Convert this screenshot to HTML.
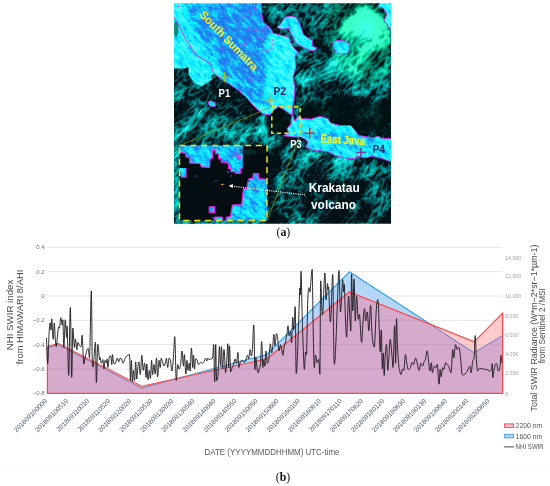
<!DOCTYPE html>
<html><head><meta charset="utf-8"><title>Figure</title>
<style>html,body{margin:0;padding:0;background:#fff}svg{display:block}</style></head>
<body>
<svg width="550" height="486" viewBox="0 0 550 486">
<rect width="550" height="486" fill="#fff"/>

<defs>
<filter id="soft" x="250" y="80" width="160" height="80" filterUnits="userSpaceOnUse"><feGaussianBlur stdDeviation="1.6"/></filter>
<radialGradient id="gtint"><stop offset="0" stop-color="#f4fff0"/><stop offset="0.2" stop-color="#f0ffd0"/><stop offset="0.45" stop-color="#eaffc4"/><stop offset="0.75" stop-color="#f0ffd4"/><stop offset="1" stop-color="#ffffff"/></radialGradient>
<clipPath id="imgclip"><rect x="174.0" y="3.2" width="217.0" height="220.60000000000002"/></clipPath>
<clipPath id="landclip">
 <polygon points="174.0,3.0 261.0,3.0 262.0,15.0 263.3,22.0 270.7,28.4 273.0,33.0 280.0,35.0 288.6,37.0 291.0,43.2 294.0,48.0 298.5,53.0 295.0,56.0 296.0,67.0 293.0,77.0 295.0,87.0 294.2,99.0 293.0,106.0 292.3,113.0 291.0,115.0 286.0,111.0 278.6,106.5 274.0,110.0 270.0,115.0 263.0,114.0 258.0,110.0 253.4,105.5 246.0,97.0 237.3,89.6 230.0,84.6 225.0,81.5 219.4,78.0 214.4,73.5 210.7,76.0 212.0,79.7 207.0,82.2 202.0,85.9 194.7,83.4 188.5,74.8 188.5,67.3 182.3,68.6 174.0,68.6"/><polygon points="280.0,24.7 285.0,17.3 291.0,16.0 296.0,17.3 299.8,23.5 303.5,34.6 308.4,38.3 312.7,40.7 312.0,45.7 317.0,48.0 314.6,51.0 309.6,50.6 304.7,48.0 296.0,43.2 292.3,35.8 288.6,28.4 283.7,29.0 280.0,29.0 277.0,27.0"/><polygon points="333.0,42.0 337.0,40.5 344.0,41.0 349.0,43.5 349.5,49.0 347.5,53.0 341.0,54.0 336.0,53.0 333.5,48.0"/><polygon points="292.3,113.0 294.6,121.0 298.3,116.0 302.0,118.5 311.0,119.0 320.0,116.2 327.7,118.5 330.8,123.1 340.0,125.5 350.9,125.5 355.5,130.9 358.6,135.5 372.5,137.8 378.6,136.3 381.7,138.6 391.0,138.6 391.0,161.7 381.7,158.6 372.5,156.3 364.8,157.9 357.0,156.3 354.0,158.6 344.7,157.9 335.4,155.6 327.7,151.7 320.0,150.9 314.4,150.6 305.7,147.0 308.2,142.0 305.7,139.5 300.8,137.0 293.4,137.0 283.5,135.8 288.5,133.3 287.2,128.4 291.0,124.0"/><polygon points="380.0,3.0 391.0,3.0 391.0,30.0 387.0,24.0 384.0,21.0 387.0,14.0 383.0,8.0 378.0,7.0"/><polygon points="208.3,102.0 211.0,100.7 215.0,103.0 215.7,106.0 212.0,106.9 209.0,105.0"/>
</clipPath>
<clipPath id="insetland">
 <polygon points="179.5,145.6 242.8,145.6 242.8,167.8 241.0,168.4 240.3,173.3 236.6,173.3 233.5,171.5 231.0,171.5 231.0,168.4 228.6,168.4 228.6,163.5 223.6,162.2 221.2,162.2 221.2,158.5 218.7,158.5 218.7,153.6 215.7,153.6 215.7,150.7 212.6,150.7 212.6,158.0 210.0,159.4 209.5,167.4 201.5,166.8 200.2,163.7 192.8,163.0 189.8,163.0 189.8,157.5 186.0,157.0 185.4,153.2 180.5,152.6 179.5,152.6"/><polygon points="253.4,173.7 258.3,173.7 259.0,178.6 267.0,179.3 267.0,220.4 226.2,220.4 226.2,217.5 230.6,216.3 232.4,205.2 241.7,204.6 243.5,188.5 247.2,188.5 247.2,186.0 248.5,179.3 252.8,178.0"/><polygon points="179.5,168.0 186.0,168.0 186.0,177.0 181.0,177.0 179.5,174.0"/><polygon points="209.3,206.8 214.7,206.8 214.7,212.6 209.3,212.6"/><polygon points="214.0,220.4 215.0,217.0 222.0,217.0 223.0,220.4"/>
</clipPath>
<filter id="cloud" x="100" y="-70" width="370" height="370" filterUnits="userSpaceOnUse" color-interpolation-filters="sRGB">
 <feGaussianBlur in="SourceGraphic" stdDeviation="2.5" result="lvl"/>
 <feTurbulence type="fractalNoise" baseFrequency="0.04 0.07" numOctaves="3" seed="11" result="ta0"/>
 <feColorMatrix in="ta0" type="matrix" values="1 0 0 0 0  1 0 0 0 0  1 0 0 0 0  0 0 0 0 1" result="ta"/>
 <feTurbulence type="turbulence" baseFrequency="0.11 0.23" numOctaves="3" seed="5" result="tb0"/>
 <feColorMatrix in="tb0" type="matrix" values="1 0 0 0 0  1 0 0 0 0  1 0 0 0 0  0 0 0 0 1" result="tb"/>
 <feComposite in="ta" in2="tb" operator="arithmetic" k1="0" k2="0.5" k3="-0.5" k4="0.5" result="n"/>
 <feComposite in="n" in2="lvl" operator="arithmetic" k1="-1.9" k2="3.4" k3="2.64" k4="-2.22" result="v"/>
 <feComponentTransfer in="v">
  <feFuncR type="table" tableValues="0.01 0 0 0 0.03 0.25"/>
  <feFuncG type="table" tableValues="0.07 0.26 0.46 0.66 0.85 1"/>
  <feFuncB type="table" tableValues="0.09 0.28 0.47 0.65 0.82 1"/>
  <feFuncA type="linear" slope="0" intercept="1"/>
 </feComponentTransfer>
</filter>
<filter id="landtex" x="100" y="-70" width="370" height="370" filterUnits="userSpaceOnUse" color-interpolation-filters="sRGB">
 <feGaussianBlur in="SourceGraphic" stdDeviation="2.0" result="lvl"/>
 <feTurbulence type="fractalNoise" baseFrequency="0.10 0.27" numOctaves="3" seed="3" result="t"/>
 <feColorMatrix in="t" type="matrix" values="1 0 0 0 0  1 0 0 0 0  1 0 0 0 0  0 0 0 0 1" result="n1"/>
 <feTurbulence type="fractalNoise" baseFrequency="0.55 0.55" numOctaves="1" seed="9" result="t2"/>
 <feColorMatrix in="t2" type="matrix" values="1 0 0 0 0  1 0 0 0 0  1 0 0 0 0  0 0 0 0 1" result="n2"/>
 <feComposite in="n1" in2="n2" operator="arithmetic" k1="0" k2="0.58" k3="0.42" k4="0" result="n"/>
 <feComposite in="n" in2="lvl" operator="arithmetic" k1="0" k2="2.8" k3="1.0" k4="-1.4" result="v"/>
 <feComponentTransfer in="v">
  <feFuncR type="table" tableValues="0.30 0.08 0.05 0.08 0.12 0.14"/>
  <feFuncG type="table" tableValues="0.98 0.95 0.91 0.75 0.58 0.48"/>
  <feFuncB type="table" tableValues="1 1 1 1 0.97 0.93"/>
  <feFuncA type="linear" slope="0" intercept="1"/>
 </feComponentTransfer>
</filter>
</defs>
<g clip-path="url(#imgclip)">
<g transform="rotate(-48 282 113)"><g filter="url(#cloud)"><g transform="rotate(48 282 113)">
<rect x="60" y="-110" width="450" height="450" fill="#000"/>
<rect x="170" y="0" width="225" height="228" fill="#1a1a1a"/>
<polygon points="174.0,69.0 214.0,74.0 232.0,88.0 262.0,112.0 272.0,112.0 272.0,146.0 174.0,146.0" fill="#4f4f4f"/>
<polygon points="174.0,69.0 190.0,72.0 196.0,100.0 186.0,146.0 174.0,146.0" fill="#4c4c4c"/>
<ellipse cx="205" cy="95" rx="12" ry="14" fill="#292929" transform="rotate(0 205 95)"/>
<polygon points="212.0,76.0 232.0,87.0 262.0,112.0 272.0,112.0 272.0,134.0 256.0,130.0 238.0,114.0 216.0,96.0 202.0,88.0" fill="#000000"/>
<ellipse cx="236" cy="112" rx="12" ry="8" fill="#242424" transform="rotate(40 236 112)"/>
<ellipse cx="228" cy="128" rx="26" ry="10" fill="#757575" transform="rotate(0 228 128)"/>
<ellipse cx="262" cy="126" rx="8" ry="12" fill="#808080" transform="rotate(0 262 126)"/>
<polygon points="174.0,146.0 180.0,146.0 180.0,224.0 174.0,224.0" fill="#9e9e9e"/>
<polygon points="174.0,220.0 268.0,220.0 268.0,224.0 174.0,224.0" fill="#8c8c8c"/>
<polygon points="262.0,3.0 391.0,3.0 391.0,100.0 296.0,100.0 296.0,55.0 300.0,50.0 282.0,33.0 264.0,20.0" fill="#4c4c4c"/>
<ellipse cx="366" cy="44" rx="27" ry="36" fill="#8c8c8c" transform="rotate(0 366 44)"/>
<ellipse cx="366" cy="32" rx="24" ry="23" fill="#bdbdbd" transform="rotate(0 366 32)"/>
<ellipse cx="368" cy="24" rx="14" ry="12" fill="#ffffff" transform="rotate(0 368 24)"/>
<ellipse cx="352" cy="62" rx="30" ry="16" fill="#999999" transform="rotate(-25 352 62)"/>
<ellipse cx="375" cy="70" rx="16" ry="20" fill="#757575" transform="rotate(0 375 70)"/>
<ellipse cx="318" cy="74" rx="24" ry="8" fill="#858585" transform="rotate(-8 318 74)"/>
<ellipse cx="312" cy="26" rx="14" ry="8" fill="#575757" transform="rotate(0 312 26)"/>
<ellipse cx="322" cy="12" rx="10" ry="6" fill="#6b6b6b" transform="rotate(0 322 12)"/>
<ellipse cx="276" cy="11" rx="7" ry="5" fill="#808080" transform="rotate(0 276 11)"/>
<ellipse cx="300" cy="30" rx="12" ry="7" fill="#141414" transform="rotate(30 300 30)"/>
<ellipse cx="318" cy="46" rx="14" ry="6" fill="#1a1a1a" transform="rotate(20 318 46)"/>
<ellipse cx="362" cy="88" rx="20" ry="7" fill="#808080" transform="rotate(-25 362 88)"/>
<polygon points="296.0,84.0 330.0,92.0 391.0,100.0 391.0,140.0 355.0,132.0 330.0,122.0 300.0,116.0" fill="#000000"/>
<ellipse cx="312" cy="100" rx="14" ry="8" fill="#1f1f1f" transform="rotate(0 312 100)"/>
<ellipse cx="378" cy="108" rx="10" ry="8" fill="#000000" transform="rotate(0 378 108)"/>
<polygon points="268.0,136.0 391.0,160.0 391.0,224.0 268.0,224.0" fill="#1a1a1a"/>
<polygon points="300.0,150.0 391.0,162.0 391.0,176.0 300.0,168.0" fill="#6b6b6b"/>
<ellipse cx="330" cy="172" rx="40" ry="8" fill="#474747" transform="rotate(5 330 172)"/>
<ellipse cx="287" cy="170" rx="12" ry="30" fill="#424242" transform="rotate(15 287 170)"/>
<ellipse cx="300" cy="212" rx="20" ry="8" fill="#383838" transform="rotate(0 300 212)"/>
<ellipse cx="375" cy="200" rx="14" ry="18" fill="#2e2e2e" transform="rotate(0 375 200)"/>
<ellipse cx="335" cy="200" rx="30" ry="14" fill="#0a0a0a" transform="rotate(0 335 200)"/>
<polygon points="272.0,111.0 292.0,115.0 287.0,128.0 288.0,133.0 272.0,133.0" fill="#0a0a0a"/>
<polygon points="262.0,134.0 285.0,137.0 282.0,148.0 266.0,146.0" fill="#666666"/>
</g></g></g>
<ellipse cx="366" cy="30" rx="46" ry="62" fill="url(#gtint)" style="mix-blend-mode:multiply"/>
<g filter="url(#soft)"><polygon points="270.0,110.0 292.0,114.0 288.0,128.0 289.0,134.0 272.0,134.0 264.0,124.0" fill="#020c11" opacity="0.9"/>
<polygon points="302.0,102.0 330.0,98.0 391.0,104.0 391.0,137.0 360.0,134.0 353.0,124.0 332.0,121.0 320.0,115.0 302.0,116.0" fill="#020c11" opacity="0.62"/></g>
<g clip-path="url(#landclip)"><g transform="rotate(44 282 113)"><g filter="url(#landtex)"><g transform="rotate(-44 282 113)">
<rect x="60" y="-110" width="450" height="450" fill="#333333"/>
<polygon points="190.0,3.0 262.0,3.0 272.0,30.0 268.0,60.0 264.0,106.0 246.0,97.0 226.0,78.0 212.0,58.0 198.0,36.0 186.0,12.0" fill="#b8b8b8"/>
<polygon points="204.0,8.0 236.0,8.0 262.0,56.0 258.0,84.0 244.0,78.0 222.0,52.0" fill="#dbdbdb"/>
<polygon points="222.0,3.0 262.0,3.0 266.0,28.0 262.0,56.0 240.0,40.0" fill="#d1d1d1"/>
<polygon points="268.0,36.0 296.0,44.0 296.0,116.0 268.0,108.0" fill="#1f1f1f"/>
<polygon points="280.0,14.0 300.0,18.0 318.0,50.0 296.0,46.0" fill="#383838"/>
<polygon points="296.0,118.0 391.0,140.0 391.0,160.0 300.0,146.0" fill="#575757"/>
<polygon points="320.0,128.0 370.0,140.0 370.0,152.0 320.0,146.0" fill="#707070"/>
<polygon points="290.0,116.0 312.0,118.0 312.0,146.0 286.0,138.0" fill="#333333"/>
</g></g></g></g>
<ellipse cx="176" cy="29" rx="2.4" ry="8" fill="#0b7a66" opacity="0.85"/>
<polyline points="174.0,17.0 180.0,28.0 186.0,40.0 196.0,55.0 210.7,63.6 213.2,72.3 219.4,77.5 230.0,84.6 237.3,89.6 246.0,97.0 253.4,105.5 258.0,110.0 263.0,114.0 270.0,115.0 274.0,110.0 278.6,106.5 286.0,111.0 291.0,115.0" fill="none" stroke="#d426e6" stroke-width="0.9" stroke-linejoin="round"/>
<polyline points="250.0,3.0 261.0,3.0 262.0,15.0 263.3,22.0 270.7,28.4 273.0,33.0 280.0,35.0 288.6,37.0 291.0,43.2 294.0,48.0 298.5,53.0 295.0,56.0 296.0,67.0 293.0,77.0 295.0,87.0 294.2,99.0 293.0,106.0 292.3,113.0 294.6,121.0" fill="none" stroke="#d426e6" stroke-width="0.9" stroke-linejoin="round"/>
<polygon points="280.0,24.7 285.0,17.3 291.0,16.0 296.0,17.3 299.8,23.5 303.5,34.6 308.4,38.3 312.7,40.7 312.0,45.7 317.0,48.0 314.6,51.0 309.6,50.6 304.7,48.0 296.0,43.2 292.3,35.8 288.6,28.4 283.7,29.0 280.0,29.0 277.0,27.0" fill="none" stroke="#d426e6" stroke-width="0.9" stroke-linejoin="round"/>
<polygon points="333.0,42.0 337.0,40.5 344.0,41.0 349.0,43.5 349.5,49.0 347.5,53.0 341.0,54.0 336.0,53.0 333.5,48.0" fill="none" stroke="#d426e6" stroke-width="0.9" stroke-linejoin="round"/>
<polygon points="208.3,102.0 211.0,100.7 215.0,103.0 215.7,106.0 212.0,106.9 209.0,105.0" fill="none" stroke="#d426e6" stroke-width="0.9" stroke-linejoin="round"/>
<polyline points="294.6,121.0 298.3,116.0 302.0,118.5 311.0,119.0 320.0,116.2 327.7,118.5 330.8,123.1 340.0,125.5 350.9,125.5 355.5,130.9 358.6,135.5 372.5,137.8 378.6,136.3 381.7,138.6 391.0,138.6" fill="none" stroke="#d426e6" stroke-width="0.9" stroke-linejoin="round"/>
<polyline points="391.0,161.7 381.7,158.6 372.5,156.3 364.8,157.9 357.0,156.3 354.0,158.6 344.7,157.9 335.4,155.6 327.7,151.7 320.0,150.9 314.4,150.6 305.7,147.0 308.2,142.0 305.7,139.5 300.8,137.0 293.4,137.0 283.5,135.8 288.5,133.3 287.2,128.4 291.0,124.0 292.3,113.0" fill="none" stroke="#d426e6" stroke-width="0.9" stroke-linejoin="round"/>
<polyline points="391.0,30.0 387.0,24.0 384.0,21.0 387.0,14.0 383.0,8.0 378.0,7.0" fill="none" stroke="#d426e6" stroke-width="0.9" stroke-linejoin="round"/>
<rect x="238.8" y="14.9" width="2.1" height="1.1" fill="#dd2ee2" opacity="0.85"/><rect x="242.5" y="15.5" width="2.1" height="1.1" fill="#dd2ee2" opacity="0.85"/><rect x="249.9" y="12.5" width="2.1" height="1.1" fill="#dd2ee2" opacity="0.85"/><rect x="232.6" y="19.3" width="2.1" height="1.1" fill="#dd2ee2" opacity="0.85"/><rect x="254.2" y="8.1" width="2.1" height="1.1" fill="#dd2ee2" opacity="0.85"/><rect x="225.9" y="27.3" width="2.1" height="1.1" fill="#dd2ee2" opacity="0.85"/><rect x="247.5" y="27.9" width="2.1" height="1.1" fill="#dd2ee2" opacity="0.85"/><rect x="253.0" y="30.4" width="2.1" height="1.1" fill="#dd2ee2" opacity="0.85"/><rect x="255.5" y="30.4" width="2.1" height="1.1" fill="#dd2ee2" opacity="0.85"/><rect x="261.7" y="30.4" width="2.1" height="1.1" fill="#dd2ee2" opacity="0.85"/><rect x="263.5" y="26.7" width="2.1" height="1.1" fill="#dd2ee2" opacity="0.85"/><rect x="264.7" y="28.5" width="2.1" height="1.1" fill="#dd2ee2" opacity="0.85"/><rect x="262.9" y="34.7" width="2.1" height="1.1" fill="#dd2ee2" opacity="0.85"/><rect x="254.9" y="38.4" width="2.1" height="1.1" fill="#dd2ee2" opacity="0.85"/><rect x="260.4" y="38.4" width="2.1" height="1.1" fill="#dd2ee2" opacity="0.85"/><rect x="267.8" y="39.0" width="2.1" height="1.1" fill="#dd2ee2" opacity="0.85"/><rect x="271.5" y="39.6" width="2.1" height="1.1" fill="#dd2ee2" opacity="0.85"/><rect x="271.5" y="43.9" width="2.1" height="1.1" fill="#dd2ee2" opacity="0.85"/><rect x="261.0" y="45.2" width="2.1" height="1.1" fill="#dd2ee2" opacity="0.85"/><rect x="253.6" y="48.9" width="2.1" height="1.1" fill="#dd2ee2" opacity="0.85"/><rect x="261.0" y="49.5" width="2.1" height="1.1" fill="#dd2ee2" opacity="0.85"/><rect x="264.7" y="49.5" width="2.1" height="1.1" fill="#dd2ee2" opacity="0.85"/><rect x="267.2" y="49.5" width="2.1" height="1.1" fill="#dd2ee2" opacity="0.85"/><rect x="270.3" y="47.6" width="2.1" height="1.1" fill="#dd2ee2" opacity="0.85"/><rect x="238.8" y="43.3" width="2.1" height="1.1" fill="#dd2ee2" opacity="0.85"/><rect x="243.1" y="43.9" width="2.1" height="1.1" fill="#dd2ee2" opacity="0.85"/><rect x="193.5" y="29.0" width="2.1" height="1.1" fill="#dd2ee2" opacity="0.85"/><rect x="220.5" y="48.3" width="2.1" height="1.1" fill="#dd2ee2" opacity="0.85"/><rect x="177.0" y="6.0" width="2.1" height="1.1" fill="#dd2ee2" opacity="0.85"/><rect x="248.5" y="78.5" width="2.1" height="1.1" fill="#dd2ee2" opacity="0.85"/><rect x="250.0" y="80.5" width="2.1" height="1.1" fill="#dd2ee2" opacity="0.85"/>
<rect x="179.5" y="145.6" width="87.5" height="74.80000000000001" fill="#030d12"/>
<g clip-path="url(#insetland)"><g transform="rotate(44 282 113)"><g filter="url(#landtex)"><g transform="rotate(-44 282 113)">
<rect x="60" y="-110" width="450" height="450" fill="#9e9e9e"/>
<polygon points="132.0,140.0 136.5,140.0 176.5,180.0 172.0,180.0" fill="#666666"/>
<polygon points="143.0,140.0 147.5,140.0 187.5,180.0 183.0,180.0" fill="#666666"/>
<polygon points="154.0,140.0 158.5,140.0 198.5,180.0 194.0,180.0" fill="#666666"/>
<polygon points="165.0,140.0 169.5,140.0 209.5,180.0 205.0,180.0" fill="#666666"/>
<polygon points="176.0,140.0 180.5,140.0 220.5,180.0 216.0,180.0" fill="#666666"/>
<polygon points="187.0,140.0 191.5,140.0 231.5,180.0 227.0,180.0" fill="#666666"/>
<polygon points="198.0,140.0 202.5,140.0 242.5,180.0 238.0,180.0" fill="#666666"/>
<polygon points="209.0,140.0 213.5,140.0 253.5,180.0 249.0,180.0" fill="#666666"/>
<polygon points="220.0,140.0 224.5,140.0 264.5,180.0 260.0,180.0" fill="#666666"/>
<polygon points="231.0,140.0 235.5,140.0 275.5,180.0 271.0,180.0" fill="#666666"/>
<polygon points="242.0,140.0 246.5,140.0 286.5,180.0 282.0,180.0" fill="#666666"/>
<polygon points="253.0,140.0 257.5,140.0 297.5,180.0 293.0,180.0" fill="#666666"/>
<polygon points="264.0,140.0 268.5,140.0 308.5,180.0 304.0,180.0" fill="#666666"/>
<polygon points="275.0,140.0 279.5,140.0 319.5,180.0 315.0,180.0" fill="#666666"/>
<polygon points="286.0,140.0 290.5,140.0 330.5,180.0 326.0,180.0" fill="#666666"/>
<polygon points="297.0,140.0 301.5,140.0 341.5,180.0 337.0,180.0" fill="#666666"/>
<polygon points="308.0,140.0 312.5,140.0 352.5,180.0 348.0,180.0" fill="#666666"/>
<polygon points="319.0,140.0 323.5,140.0 363.5,180.0 359.0,180.0" fill="#666666"/>
<polygon points="238.0,190.0 267.0,200.0 267.0,221.0 226.0,221.0" fill="#808080"/>
</g></g></g></g>
<polyline points="242.8,167.8 241.0,168.4 240.3,173.3 236.6,173.3 233.5,171.5 231.0,171.5 231.0,168.4 228.6,168.4 228.6,163.5 223.6,162.2 221.2,162.2 221.2,158.5 218.7,158.5 218.7,153.6 215.7,153.6 215.7,150.7 212.6,150.7 212.6,158.0 210.0,159.4 209.5,167.4 201.5,166.8 200.2,163.7 192.8,163.0 189.8,163.0 189.8,157.5 186.0,157.0 185.4,153.2 180.5,152.6 179.5,152.6" fill="none" stroke="#ee22e6" stroke-width="1.25" stroke-linejoin="miter"/>
<circle cx="236.6" cy="154.6" r="1.5" fill="none" stroke="#ee22e6" stroke-width="1.25" stroke-linejoin="miter"/><circle cx="239.2" cy="157" r="1.4" fill="none" stroke="#ee22e6" stroke-width="1.25" stroke-linejoin="miter"/>
<polyline points="226.2,220.4 226.2,217.5 230.6,216.3 232.4,205.2 241.7,204.6 243.5,188.5 247.2,188.5 247.2,186.0 248.5,179.3 252.8,178.0 253.4,173.7 258.3,173.7 259.0,178.6 267.0,179.3" fill="none" stroke="#ee22e6" stroke-width="1.25" stroke-linejoin="miter"/>
<polyline points="186.0,168.0 186.0,177.0 181.0,177.0" fill="none" stroke="#ee22e6" stroke-width="1.25" stroke-linejoin="miter"/>
<polygon points="209.3,206.8 214.7,206.8 214.7,212.6 209.3,212.6" fill="none" stroke="#ee22e6" stroke-width="1.25" stroke-linejoin="miter"/>
<polyline points="214.0,220.4 215.0,217.0 222.0,217.0 223.0,220.4" fill="none" stroke="#ee22e6" stroke-width="1.25" stroke-linejoin="miter"/>
<circle cx="228" cy="172" r="1.2" fill="#0b4f8f"/>
<circle cx="231" cy="176" r="1.0" fill="#0b4f8f"/>
<circle cx="196" cy="176" r="1.1" fill="#0b4f8f"/>
<circle cx="216" cy="181" r="0.9" fill="#0b4f8f"/>
<circle cx="249" cy="181" r="1.0" fill="#0b4f8f"/>
<circle cx="213" cy="218" r="1.3" fill="#0b4f8f"/>
<circle cx="240" cy="150" r="1.2" fill="#0b4f8f"/>
<ellipse cx="248" cy="152" rx="9" ry="3" fill="#0a4a48" opacity="0.45"/>
<rect x="220.6" y="183.8" width="1.3" height="1.2" fill="#e03030"/><rect x="221.9" y="183.8" width="1.4" height="1.2" fill="#f0c020"/><rect x="223.3" y="183.9" width="1" height="1" fill="#b040c0"/>
</g>
<rect x="179.5" y="145.6" width="87.5" height="74.80000000000001" stroke="#f2e01a" fill="none" stroke-width="1.5" stroke-dasharray="6.2 4.7"/>
<rect x="271.8" y="106.8" width="28.4" height="26.5" stroke="#f2e01a" fill="none" stroke-width="1.5" stroke-dasharray="4.2 3.2"/>
<line x1="271.8" y1="106.8" x2="179.5" y2="145.6" stroke="#8a9a10" stroke-width="0.7"/>
<line x1="300.2" y1="133.3" x2="267.5" y2="220" stroke="#8a9a10" stroke-width="0.7"/>
<line x1="232" y1="186.1" x2="305.5" y2="195" stroke="#fff" stroke-width="1.1" stroke-dasharray="1.1 1.1"/>
<polygon points="228.6,185.8 233,183.9 232.6,188" fill="#fff"/>
<path d="M219.3,77.2H229.7M224.5,72.0V82.4" stroke="#8fbf2a" stroke-width="1.5" fill="none"/>
<path d="M264.5,99.7H274.9M269.7,94.5V104.9" stroke="#e8a81c" stroke-width="1.5" fill="none"/>
<path d="M304.5,133.3H314.9M309.7,128.1V138.5" stroke="#ee2222" stroke-width="1.5" fill="none"/>
<path d="M355.7,152.5H366.1M360.9,147.3V157.7" stroke="#7a3d9a" stroke-width="1.5" fill="none"/>
<text transform="translate(199.0,15.3) rotate(46)" font-family="Liberation Sans, Arial, sans-serif" font-weight="bold" font-size="11.4" fill="#fff21a" textLength="78.5" lengthAdjust="spacingAndGlyphs">South Sumatra</text>
<text x="218.6" y="96.6" font-family="Liberation Sans, Arial, sans-serif" font-weight="bold" font-size="10" fill="#fff" textLength="11.6" lengthAdjust="spacingAndGlyphs">P1</text>
<text x="273.4" y="95.2" font-family="Liberation Sans, Arial, sans-serif" font-weight="bold" font-size="10.8" fill="#0c1f5c" textLength="12.4" lengthAdjust="spacingAndGlyphs">P2</text>
<text x="290.2" y="148" font-family="Liberation Sans, Arial, sans-serif" font-weight="bold" font-size="10" fill="#fff" textLength="11.4" lengthAdjust="spacingAndGlyphs">P3</text>
<text x="372.4" y="153.0" font-family="Liberation Sans, Arial, sans-serif" font-weight="bold" font-size="10.6" fill="#0c1f5c" textLength="12.6" lengthAdjust="spacingAndGlyphs">P4</text>
<text transform="translate(320.3,142.2) rotate(3.6)" font-family="Liberation Sans, Arial, sans-serif" font-weight="bold" font-size="11.6" fill="#fff21a" stroke="#fff21a" stroke-width="0.25" textLength="44.4" lengthAdjust="spacingAndGlyphs">East Java</text>
<text x="334.2" y="191.6" text-anchor="middle" font-family="Liberation Sans, Arial, sans-serif" font-weight="bold" font-size="13" fill="#fff" textLength="51" lengthAdjust="spacingAndGlyphs">Krakatau</text>
<text x="333.5" y="208.6" text-anchor="middle" font-family="Liberation Sans, Arial, sans-serif" font-weight="bold" font-size="13" fill="#fff" textLength="45" lengthAdjust="spacingAndGlyphs">volcano</text>
<line x1="47.4" x2="502.6" y1="247.3" y2="247.3" stroke="#e6e6e6" stroke-width="1"/>
<line x1="47.4" x2="502.6" y1="271.6" y2="271.6" stroke="#e6e6e6" stroke-width="1"/>
<line x1="47.4" x2="502.6" y1="296.0" y2="296.0" stroke="#e6e6e6" stroke-width="1"/>
<line x1="47.4" x2="502.6" y1="320.3" y2="320.3" stroke="#e6e6e6" stroke-width="1"/>
<line x1="47.4" x2="502.6" y1="344.6" y2="344.6" stroke="#e6e6e6" stroke-width="1"/>
<line x1="47.4" x2="502.6" y1="369.0" y2="369.0" stroke="#e6e6e6" stroke-width="1"/>
<clipPath id="redarea"><polygon points="47.4,346.7 58.0,343.3 141.6,386.2 266.7,358.9 349.4,292.0 474.2,341.8 502.6,313.2 502.6,393.3 47.4,393.3"/></clipPath>
<polygon points="47.4,347.8 58.0,344.5 141.6,388.0 266.7,354.6 349.4,271.8 474.2,352.8 502.6,335.5 502.6,393.3 47.4,393.3" fill="#b4d6fa"/>
<polyline points="47.4,347.8 58.0,344.5 141.6,388.0 266.7,354.6 349.4,271.8 474.2,352.8 502.6,335.5" fill="none" stroke="#36a0e2" stroke-width="1.15" stroke-linejoin="round"/>
<polygon points="47.4,346.7 58.0,343.3 141.6,386.2 266.7,358.9 349.4,292.0 474.2,341.8 502.6,313.2 502.6,393.3 47.4,393.3" fill="#fccccd"/>
<polygon points="47.4,347.8 58.0,344.5 141.6,388.0 178.5,378.1 266.7,358.9 349.4,292.0 430.2,324.2 474.2,352.8 502.6,335.5 502.6,393.3 47.4,393.3" fill="#d5aacd"/>
<line x1="47.4" x2="502.6" y1="247.3" y2="247.3" stroke="#000" stroke-opacity="0.07" stroke-width="0.9" clip-path="url(#redarea)"/>
<line x1="47.4" x2="502.6" y1="271.6" y2="271.6" stroke="#000" stroke-opacity="0.07" stroke-width="0.9" clip-path="url(#redarea)"/>
<line x1="47.4" x2="502.6" y1="296.0" y2="296.0" stroke="#000" stroke-opacity="0.07" stroke-width="0.9" clip-path="url(#redarea)"/>
<line x1="47.4" x2="502.6" y1="320.3" y2="320.3" stroke="#000" stroke-opacity="0.07" stroke-width="0.9" clip-path="url(#redarea)"/>
<line x1="47.4" x2="502.6" y1="344.6" y2="344.6" stroke="#000" stroke-opacity="0.07" stroke-width="0.9" clip-path="url(#redarea)"/>
<line x1="47.4" x2="502.6" y1="369.0" y2="369.0" stroke="#000" stroke-opacity="0.07" stroke-width="0.9" clip-path="url(#redarea)"/>
<polyline points="47.4,347.8 58.0,344.5 141.6,388.0 266.7,354.6 349.4,271.8 474.2,352.8 502.6,335.5" fill="none" stroke="#6e78be" stroke-width="1.0" stroke-linejoin="round" clip-path="url(#redarea)"/>
<polygon points="47.4,346.7 58.0,343.3 141.6,386.2 266.7,358.9 349.4,292.0 474.2,341.8 502.6,313.2 502.6,393.3 47.4,393.3" fill="none" stroke="#ff4444" stroke-width="1.15" stroke-linejoin="miter"/>
<path d="M46.5,338.3C46.7,343.4 47.2,364.0 47.7,364.0C48.2,362.9 48.6,341.2 49.1,333.0C49.6,324.8 49.8,323.5 50.2,322.9C50.6,322.9 50.7,330.0 51.0,330.0C51.3,329.2 51.4,318.8 51.8,318.8C52.2,320.7 52.7,338.5 53.2,339.3C53.7,339.3 53.9,323.0 54.3,322.9C54.7,322.9 54.9,334.3 55.3,339.0C55.7,343.7 55.7,346.5 56.3,346.5C56.9,344.1 57.8,330.7 58.4,327.0C59.0,327.0 59.0,328.0 59.5,328.0C60.0,326.1 60.3,318.3 60.8,317.7C61.3,317.7 61.7,324.6 62.1,325.0C62.5,325.0 62.5,319.8 62.9,319.8C63.3,324.3 63.4,347.5 63.9,347.5C64.4,347.5 64.7,321.8 65.2,319.8C65.7,319.8 66.2,336.1 66.6,337.3C67.0,337.3 66.8,326.0 67.2,326.0C67.6,333.6 68.1,375.3 68.7,375.3C69.3,371.6 69.7,307.5 70.3,307.5C70.9,307.9 71.2,373.2 71.7,377.3C72.2,377.3 72.3,334.0 72.8,328.0C73.3,328.0 73.9,345.3 74.4,347.5C74.9,347.5 74.9,339.0 75.4,339.0C75.9,339.4 76.4,348.9 76.9,349.6C77.4,349.6 77.3,343.0 77.9,342.4C78.5,342.4 79.3,345.7 80.0,346.5C80.7,346.5 80.8,346.5 81.2,346.5C81.6,344.2 81.7,335.2 82.2,335.2C82.7,338.7 83.1,359.5 83.7,364.0C84.3,364.0 84.4,360.7 85.1,357.8C85.8,354.9 86.5,351.5 87.1,349.6C87.7,348.5 87.7,348.5 88.2,348.5C88.7,350.1 89.0,357.8 89.6,357.8C90.2,346.3 90.8,291.0 91.3,291.0C91.8,292.2 91.9,348.8 92.3,364.0C92.7,367.0 92.7,367.0 93.3,367.0C93.9,362.7 94.8,342.4 95.4,342.4C96.0,345.5 95.9,382.1 96.4,382.5C96.9,382.5 97.2,348.9 97.8,344.4C98.4,344.4 99.1,357.3 99.5,359.9C99.9,359.9 99.6,357.4 100.0,357.4C100.4,358.1 100.8,362.8 101.4,363.2C102.0,363.2 102.4,359.6 102.9,359.6C103.4,360.8 103.6,368.9 104.0,369.0C104.4,369.0 104.5,361.5 105.0,360.3C105.5,360.3 106.1,363.2 106.5,363.2C106.9,362.9 106.9,358.9 107.2,358.9C107.5,359.8 107.5,367.5 107.9,367.5C108.3,367.1 108.8,359.0 109.4,356.7C110.0,356.0 110.3,356.0 110.8,356.0C111.3,357.6 111.5,364.6 111.8,364.6C112.1,364.3 112.1,354.9 112.5,354.6C112.9,354.6 113.2,361.3 113.7,363.2C114.2,363.9 114.4,363.9 115.1,363.9C115.8,362.9 116.6,358.6 117.3,358.2C118.0,358.2 118.1,361.8 118.7,361.8C119.3,361.8 119.6,358.8 120.2,358.2C120.8,358.2 121.0,358.2 121.6,358.9C122.2,359.9 122.3,363.2 123.0,363.2C123.7,363.1 124.3,359.8 125.2,358.2C126.1,356.6 126.5,356.0 127.4,355.3C128.3,354.6 128.9,354.6 129.5,354.6C130.1,359.6 130.1,379.4 130.5,380.5C130.9,380.5 131.0,360.3 131.4,360.3C131.8,360.6 132.0,379.9 132.4,381.9C132.8,381.9 133.0,370.7 133.4,370.4C133.8,370.4 134.1,380.5 134.6,380.5C135.1,378.8 135.3,362.1 135.7,361.8C136.1,361.8 136.3,377.6 136.7,379.0C137.1,379.0 137.3,372.4 137.7,369.0C138.1,365.6 138.4,361.8 138.9,361.8C139.4,362.9 139.7,374.7 140.3,374.7C140.9,373.4 141.2,356.2 141.8,355.3C142.4,355.3 142.6,368.8 143.2,370.4C143.8,370.4 144.0,363.2 144.6,363.2C145.2,364.6 145.7,377.5 146.1,377.6C146.5,377.6 146.4,363.9 146.8,363.9C147.2,364.3 147.5,378.5 148.0,379.8C148.5,379.8 148.8,370.7 149.3,370.4C149.8,370.4 149.9,378.3 150.4,378.3C150.9,376.3 151.2,361.0 151.6,360.3C152.0,360.3 152.1,373.8 152.6,374.7C153.1,374.7 153.5,364.7 154.0,364.6C154.5,364.6 154.7,374.0 155.2,374.0C155.7,372.7 156.0,358.2 156.5,358.2C157.0,358.8 157.1,376.5 157.6,376.9C158.1,376.9 158.5,362.2 159.0,360.3C159.5,360.3 159.8,367.5 160.2,367.5C160.6,367.1 160.7,359.2 161.2,358.2C161.7,358.2 162.1,360.9 162.7,362.5C163.3,364.1 163.5,366.1 164.1,366.1C164.7,366.0 165.0,363.4 165.5,361.8C166.0,360.2 166.1,358.2 166.5,358.2C166.9,359.3 167.2,367.5 167.7,367.5C168.2,367.5 168.5,359.5 169.1,358.2C169.7,358.2 169.9,358.3 170.5,360.9C171.1,363.5 171.3,371.1 171.9,371.1C172.5,370.4 172.8,364.3 173.4,357.4C174.0,350.5 174.2,336.6 174.8,336.6C175.4,341.2 175.6,374.9 176.2,380.5C176.8,380.5 177.1,366.9 177.7,364.6C178.3,364.6 178.5,369.0 179.1,369.0C179.7,369.0 180.0,368.2 180.6,364.6C181.2,361.0 181.4,351.0 182.0,351.0C182.6,351.3 182.9,365.4 183.4,366.1C183.9,366.1 183.9,354.6 184.4,354.6C184.9,356.2 185.4,372.9 185.9,374.0C186.4,374.0 186.5,361.0 186.9,360.3C187.3,360.3 187.5,369.8 188.0,370.4C188.5,370.4 188.8,363.2 189.2,363.2C189.6,363.3 189.8,371.1 190.2,371.1C190.6,368.1 190.9,348.8 191.4,348.1C191.9,348.1 192.3,366.1 192.7,367.5C193.1,367.5 193.1,355.3 193.5,355.3C193.9,355.6 194.1,368.3 194.5,369.0C194.9,369.0 195.0,360.8 195.5,358.9C196.0,358.9 196.4,358.9 197.0,359.6C197.6,360.7 197.7,364.0 198.4,364.6C199.1,364.6 199.5,362.8 200.3,362.5C201.1,362.5 201.5,363.2 202.2,363.2C202.9,363.1 203.2,362.8 203.9,361.8C204.6,360.8 205.0,358.4 205.6,358.2C206.2,358.2 206.4,361.0 206.8,361.0C207.2,361.0 207.4,358.5 207.8,358.2C208.2,358.2 208.3,359.5 208.9,359.6C209.5,359.6 210.1,359.2 210.8,358.9C211.5,358.6 211.9,358.9 212.5,358.2C213.1,355.3 213.3,344.5 213.7,344.5C214.1,349.2 214.3,381.9 214.7,381.9C215.1,381.9 215.3,344.8 215.7,344.5C216.1,344.5 216.1,374.5 216.6,380.5C217.1,380.5 217.4,380.5 218.0,374.7C218.6,367.9 218.9,348.3 219.4,346.6C219.9,346.6 220.1,366.1 220.5,366.1C220.9,366.1 221.1,346.6 221.5,346.6C221.9,347.2 222.1,368.4 222.6,369.0C223.1,369.0 223.4,349.5 224.0,349.5C224.6,350.2 225.0,369.9 225.5,372.6C226.0,372.6 226.1,369.0 226.6,363.2C227.1,357.4 227.4,343.8 227.8,343.8C228.2,344.7 228.4,367.1 228.7,367.5C229.0,367.5 229.1,345.9 229.5,345.9C229.9,346.8 230.2,366.9 230.5,371.9C230.8,371.9 230.9,371.9 231.2,371.1C231.5,370.2 231.7,368.8 232.2,367.5C232.7,366.2 233.0,366.3 233.6,364.6C234.2,362.9 234.4,359.2 235.0,358.9C235.6,358.9 235.9,363.2 236.5,363.2C237.1,361.9 237.4,352.4 237.9,352.4C238.4,353.3 238.4,365.6 238.9,367.5C239.4,367.5 239.7,363.2 240.4,361.8C241.1,360.4 241.4,360.3 242.2,360.3C243.0,360.4 243.6,362.5 244.4,362.5C245.2,362.2 245.5,360.3 246.1,358.9C246.7,357.5 247.1,355.3 247.6,355.3C248.1,355.3 248.2,358.9 248.7,358.9C249.2,357.7 249.7,350.1 250.2,349.5C250.7,349.5 250.9,355.7 251.3,356.0C251.7,356.0 251.8,356.0 252.3,351.0C252.8,344.8 253.3,325.0 253.8,325.0C254.3,328.7 254.4,363.2 254.8,369.7C255.2,369.7 255.4,357.5 255.9,357.4C256.4,357.4 256.6,366.0 257.1,369.0C257.6,372.0 257.9,372.6 258.4,372.6C258.9,372.3 259.1,368.8 259.5,367.5C259.9,366.2 260.1,367.5 260.5,366.1C260.9,360.9 261.2,341.6 261.7,341.6C262.2,341.9 262.4,363.8 262.8,367.5C263.2,367.5 263.4,360.6 263.8,360.3C264.2,360.3 264.5,366.1 264.9,366.1C265.3,364.2 265.5,351.6 266.0,351.0C266.5,351.0 266.7,361.3 267.2,363.2C267.7,363.2 268.0,363.2 268.6,360.3C269.2,356.4 269.7,345.2 270.3,343.8C270.9,343.8 271.1,352.1 271.5,353.1C271.9,353.1 272.0,352.5 272.5,348.8C273.0,345.1 273.4,335.0 273.9,334.4C274.4,334.4 274.4,345.9 274.9,345.9C275.4,345.8 275.9,335.4 276.4,333.7C276.9,333.7 277.0,333.8 277.5,337.3C278.0,340.8 278.4,349.6 279.0,351.0C279.6,351.0 279.9,344.9 280.4,344.5C280.9,344.5 281.1,346.6 281.6,348.8C282.1,351.0 282.4,355.3 282.9,355.3C283.4,355.0 283.5,350.1 284.0,347.4C284.5,344.7 284.9,344.2 285.5,341.6C286.1,339.0 286.4,337.6 286.9,334.4C287.4,331.2 287.6,325.8 288.0,325.8C288.4,326.1 288.6,334.7 289.1,335.8C289.6,335.8 290.0,331.5 290.5,331.5C291.0,332.9 291.2,343.0 291.6,343.0C292.0,340.2 292.3,320.0 292.7,317.4C293.1,317.4 293.3,330.0 293.8,330.0C294.3,327.9 294.7,306.7 295.2,306.7C295.7,315.4 295.7,365.0 296.2,373.4C296.7,373.4 297.0,365.9 297.7,348.8C298.4,331.7 299.3,298.8 299.8,288.0C300.3,288.0 300.0,295.0 300.3,295.0C300.6,291.7 300.7,271.3 301.1,271.3C301.5,276.3 301.8,303.3 302.3,320.0C302.8,336.7 303.1,345.1 303.5,355.0C303.9,364.9 304.0,369.3 304.4,369.3C304.8,368.7 305.1,355.0 305.5,352.0C305.9,352.0 306.0,354.5 306.5,354.5C307.0,344.1 307.3,313.4 307.8,300.0C308.3,287.7 308.5,289.3 308.9,287.7C309.3,287.7 309.6,292.0 310.0,292.0C310.4,290.5 310.6,284.5 311.0,280.0C311.4,275.5 311.8,269.3 312.2,269.3C312.6,279.3 312.8,310.3 313.2,330.0C313.6,349.7 313.8,362.7 314.3,367.7C314.8,367.7 314.9,356.0 315.5,355.0C316.1,355.0 316.5,361.8 317.1,362.7C317.7,362.7 318.1,359.4 318.7,359.4C319.3,361.7 319.5,374.3 319.9,374.3C320.3,358.6 320.2,292.7 320.7,280.8C321.2,280.8 321.7,315.0 322.5,315.0C323.3,313.4 324.1,275.9 324.8,272.9C325.5,272.9 325.5,297.9 326.0,300.0C326.5,300.0 327.1,285.6 327.5,283.6C327.9,283.6 327.8,289.3 328.0,290.0C328.2,290.0 328.1,286.9 328.6,286.9C329.1,293.3 329.7,322.0 330.5,322.0C331.3,319.5 332.1,274.6 332.7,274.6C333.3,276.2 333.2,312.0 333.5,330.0C333.8,348.0 333.9,362.4 334.4,364.4C334.9,364.4 335.4,352.9 336.0,340.0C336.6,327.1 336.9,313.9 337.5,300.0C338.1,286.1 338.4,270.5 339.0,270.5C339.6,272.9 339.8,310.2 340.5,312.0C341.2,312.0 342.0,283.5 342.6,279.5C343.2,279.5 343.1,291.0 343.4,292.0C343.7,292.0 343.9,284.4 344.3,284.4C344.7,290.0 345.0,309.4 345.5,320.0C346.0,330.6 346.1,337.2 346.7,337.2C347.3,332.4 347.9,301.4 348.5,296.0C349.1,296.0 349.0,303.0 349.5,310.0C350.0,317.0 350.4,331.0 350.8,331.0C351.2,323.8 351.2,278.0 351.6,274.0C352.0,274.0 352.3,310.0 352.8,311.0C353.3,311.0 353.6,279.0 354.1,279.0C354.6,281.0 354.8,317.5 355.3,321.0C355.8,321.0 356.0,296.6 356.6,296.3C357.2,296.3 357.6,315.7 358.2,319.3C358.8,319.3 358.8,314.4 359.5,314.4C360.2,319.0 360.8,340.4 361.5,342.4C362.2,342.4 362.2,331.1 362.8,324.3C363.4,317.5 363.9,309.3 364.5,308.6C365.1,308.6 365.0,320.3 365.6,321.0C366.2,321.0 366.6,311.9 367.3,311.9C368.0,313.9 368.2,330.8 368.9,330.8C369.6,329.5 369.9,305.3 370.6,305.3C371.3,306.3 371.4,327.5 372.2,335.8C373.0,344.1 373.6,347.0 374.4,347.0C375.2,341.7 375.6,318.9 376.3,309.4C377.0,299.9 377.4,299.6 378.0,299.6C378.6,303.9 378.9,320.4 379.3,330.8C379.7,341.2 379.8,351.7 380.2,351.7C380.6,351.5 380.9,330.0 381.3,330.0C381.7,333.5 381.9,364.4 382.3,369.0C382.7,369.0 382.9,353.0 383.3,353.0C383.7,354.3 383.8,374.9 384.2,375.5C384.6,375.5 384.7,362.2 385.2,356.0C385.7,349.8 386.1,344.5 386.6,344.5C387.1,347.4 387.3,367.5 387.7,370.4C388.1,370.4 388.3,365.1 388.8,358.9C389.3,352.7 389.6,340.0 390.2,339.4C390.8,339.4 391.4,350.4 392.0,356.0C392.6,361.6 392.6,367.5 393.1,367.5C393.6,361.5 394.1,326.7 394.6,325.8C395.1,325.8 395.2,363.2 395.6,363.2C396.0,361.7 396.1,322.2 396.5,318.5C396.9,318.5 397.0,335.6 397.4,344.5C397.8,353.4 398.2,358.0 398.6,363.2C399.0,368.4 399.1,368.1 399.6,370.4C400.1,372.7 400.4,374.7 401.0,374.7C401.6,374.4 401.9,369.9 402.5,369.0C403.1,369.0 403.3,370.4 403.9,370.4C404.5,367.5 404.8,356.0 405.4,354.6C406.0,354.6 406.2,360.2 406.8,363.2C407.4,366.2 407.5,368.8 408.2,369.7C408.9,369.7 409.7,368.9 410.4,367.5C411.1,366.1 411.3,363.1 411.9,362.5C412.5,362.5 412.9,364.6 413.6,364.6C414.3,363.7 414.8,358.8 415.5,358.2C416.2,358.2 416.2,359.4 416.9,361.8C417.6,364.2 418.3,370.1 419.1,370.4C419.9,370.4 420.1,364.1 420.8,363.2C421.5,363.2 422.0,366.1 422.7,366.1C423.4,365.8 423.5,363.2 424.1,361.8C424.7,360.4 424.9,361.1 425.5,358.9C426.1,356.7 426.6,350.8 427.2,350.8C427.8,351.3 428.1,357.2 428.6,361.2C429.1,365.2 429.4,370.7 429.9,371.0C430.4,371.0 430.8,362.8 431.3,362.8C431.8,363.1 431.8,372.0 432.4,372.7C433.0,372.7 433.4,367.1 434.1,366.1C434.8,366.1 435.1,367.7 435.7,367.7C436.3,367.4 436.6,364.4 437.3,364.4C438.0,367.7 438.4,383.2 439.0,384.2C439.6,384.2 439.7,370.9 440.1,369.4C440.5,369.4 440.6,376.8 441.1,376.8C441.6,376.5 442.2,369.2 442.8,367.7C443.4,367.7 443.3,369.4 443.9,369.4C444.5,368.4 444.9,363.8 445.6,362.8C446.3,362.8 446.5,363.6 447.2,364.4C447.9,365.2 448.1,365.2 448.9,366.9C449.7,368.6 450.2,372.7 451.0,372.7C451.8,369.2 452.1,352.6 452.7,349.6C453.3,349.6 453.2,357.9 453.8,357.9C454.4,356.9 454.8,346.4 455.5,344.7C456.2,344.7 456.5,349.1 457.1,349.6C457.7,349.6 458.1,347.2 458.7,347.2C459.3,347.7 459.5,349.3 459.9,352.1C460.3,354.9 460.5,356.8 460.9,361.2C461.3,365.6 461.4,371.5 462.0,374.3C462.6,375.1 462.9,375.1 463.7,375.1C464.5,374.8 465.3,373.8 466.2,372.7C467.1,371.6 467.4,370.7 468.1,369.4C468.8,368.1 469.2,366.1 469.8,366.1C470.4,366.8 470.5,372.7 471.1,372.7C471.7,371.7 472.1,364.2 472.7,361.2C473.3,358.2 473.6,361.2 474.1,357.9C474.6,352.8 474.7,335.6 475.2,335.6C475.7,335.9 475.9,352.4 476.4,359.5C476.9,366.6 477.1,369.2 477.7,371.0C478.3,371.0 478.5,369.1 479.3,368.6C480.1,368.6 480.8,368.6 481.8,368.6C482.8,368.8 483.3,369.2 484.3,369.4C485.3,369.4 485.7,369.4 486.7,369.4C487.7,369.7 488.3,370.8 489.2,371.0C490.1,371.0 490.7,371.0 491.3,370.2C491.9,368.7 491.9,363.6 492.2,363.6C492.5,365.1 492.4,376.4 492.8,377.6C493.2,377.6 493.5,372.2 494.1,369.4C494.7,366.6 495.2,364.4 495.8,363.6C496.4,363.6 496.6,363.8 497.1,365.3C497.6,366.8 497.7,370.5 498.3,371.0C498.9,371.0 499.4,370.8 499.9,367.7C500.4,364.6 500.6,356.4 501.0,355.4C501.4,355.4 501.8,361.3 502.0,362.8" fill="none" stroke="#1c1a20" stroke-width="1.0" stroke-linejoin="round" stroke-linecap="round" stroke-opacity="0.92"/>
<text x="44.5" y="249.3" text-anchor="end" font-family="Liberation Sans, Arial, sans-serif" font-size="6.0" fill="#767676">0.4</text>
<text x="44.5" y="273.6" text-anchor="end" font-family="Liberation Sans, Arial, sans-serif" font-size="6.0" fill="#767676">0.2</text>
<text x="44.5" y="298.0" text-anchor="end" font-family="Liberation Sans, Arial, sans-serif" font-size="6.0" fill="#767676">0</text>
<text x="44.5" y="322.3" text-anchor="end" font-family="Liberation Sans, Arial, sans-serif" font-size="6.0" fill="#767676">−0.2</text>
<text x="44.5" y="346.6" text-anchor="end" font-family="Liberation Sans, Arial, sans-serif" font-size="6.0" fill="#767676">−0.4</text>
<text x="44.5" y="371.0" text-anchor="end" font-family="Liberation Sans, Arial, sans-serif" font-size="6.0" fill="#767676">−0.6</text>
<text x="44.5" y="395.3" text-anchor="end" font-family="Liberation Sans, Arial, sans-serif" font-size="6.0" fill="#767676">−0.8</text>
<text x="505.2" y="259.5" font-family="Liberation Sans, Arial, sans-serif" font-size="5.2" fill="#a8a4a2">14,000</text>
<text x="505.2" y="277.5" font-family="Liberation Sans, Arial, sans-serif" font-size="5.2" fill="#a8a4a2">12,000</text>
<text x="505.2" y="298.3" font-family="Liberation Sans, Arial, sans-serif" font-size="5.2" fill="#a8a4a2">10,000</text>
<text x="505.2" y="317.8" font-family="Liberation Sans, Arial, sans-serif" font-size="5.2" fill="#a8a4a2">8,000</text>
<text x="505.2" y="337.3" font-family="Liberation Sans, Arial, sans-serif" font-size="5.2" fill="#a8a4a2">6,000</text>
<text x="505.2" y="356.4" font-family="Liberation Sans, Arial, sans-serif" font-size="5.2" fill="#a8a4a2">4,000</text>
<text x="505.2" y="374.7" font-family="Liberation Sans, Arial, sans-serif" font-size="5.2" fill="#a8a4a2">2,000</text>
<text x="505.2" y="395.9" font-family="Liberation Sans, Arial, sans-serif" font-size="5.2" fill="#a8a4a2">0</text>
<text transform="translate(47.5,401.5) rotate(-45)" text-anchor="end" font-family="Liberation Sans, Arial, sans-serif" font-size="6.55" fill="#4c5670">201809100000</text>
<text transform="translate(68.6,401.5) rotate(-45)" text-anchor="end" font-family="Liberation Sans, Arial, sans-serif" font-size="6.55" fill="#4c5670">201809100510</text>
<text transform="translate(89.6,401.5) rotate(-45)" text-anchor="end" font-family="Liberation Sans, Arial, sans-serif" font-size="6.55" fill="#4c5670">201809110010</text>
<text transform="translate(110.7,401.5) rotate(-45)" text-anchor="end" font-family="Liberation Sans, Arial, sans-serif" font-size="6.55" fill="#4c5670">201809110520</text>
<text transform="translate(131.7,401.5) rotate(-45)" text-anchor="end" font-family="Liberation Sans, Arial, sans-serif" font-size="6.55" fill="#4c5670">201809120020</text>
<text transform="translate(152.8,401.5) rotate(-45)" text-anchor="end" font-family="Liberation Sans, Arial, sans-serif" font-size="6.55" fill="#4c5670">201809120530</text>
<text transform="translate(173.9,401.5) rotate(-45)" text-anchor="end" font-family="Liberation Sans, Arial, sans-serif" font-size="6.55" fill="#4c5670">201809130030</text>
<text transform="translate(194.9,401.5) rotate(-45)" text-anchor="end" font-family="Liberation Sans, Arial, sans-serif" font-size="6.55" fill="#4c5670">201809130540</text>
<text transform="translate(216.0,401.5) rotate(-45)" text-anchor="end" font-family="Liberation Sans, Arial, sans-serif" font-size="6.55" fill="#4c5670">201809140040</text>
<text transform="translate(237.0,401.5) rotate(-45)" text-anchor="end" font-family="Liberation Sans, Arial, sans-serif" font-size="6.55" fill="#4c5670">201809140550</text>
<text transform="translate(258.1,401.5) rotate(-45)" text-anchor="end" font-family="Liberation Sans, Arial, sans-serif" font-size="6.55" fill="#4c5670">201809150050</text>
<text transform="translate(279.2,401.5) rotate(-45)" text-anchor="end" font-family="Liberation Sans, Arial, sans-serif" font-size="6.55" fill="#4c5670">201809150600</text>
<text transform="translate(300.2,401.5) rotate(-45)" text-anchor="end" font-family="Liberation Sans, Arial, sans-serif" font-size="6.55" fill="#4c5670">201809160100</text>
<text transform="translate(321.3,401.5) rotate(-45)" text-anchor="end" font-family="Liberation Sans, Arial, sans-serif" font-size="6.55" fill="#4c5670">201809160610</text>
<text transform="translate(342.3,401.5) rotate(-45)" text-anchor="end" font-family="Liberation Sans, Arial, sans-serif" font-size="6.55" fill="#4c5670">201809170110</text>
<text transform="translate(363.4,401.5) rotate(-45)" text-anchor="end" font-family="Liberation Sans, Arial, sans-serif" font-size="6.55" fill="#4c5670">201809170620</text>
<text transform="translate(384.5,401.5) rotate(-45)" text-anchor="end" font-family="Liberation Sans, Arial, sans-serif" font-size="6.55" fill="#4c5670">201809180120</text>
<text transform="translate(405.5,401.5) rotate(-45)" text-anchor="end" font-family="Liberation Sans, Arial, sans-serif" font-size="6.55" fill="#4c5670">201809180630</text>
<text transform="translate(426.6,401.5) rotate(-45)" text-anchor="end" font-family="Liberation Sans, Arial, sans-serif" font-size="6.55" fill="#4c5670">201809190130</text>
<text transform="translate(447.6,401.5) rotate(-45)" text-anchor="end" font-family="Liberation Sans, Arial, sans-serif" font-size="6.55" fill="#4c5670">201809190640</text>
<text transform="translate(468.7,401.5) rotate(-45)" text-anchor="end" font-family="Liberation Sans, Arial, sans-serif" font-size="6.55" fill="#4c5670">201809200140</text>
<text transform="translate(489.8,401.5) rotate(-45)" text-anchor="end" font-family="Liberation Sans, Arial, sans-serif" font-size="6.55" fill="#4c5670">201809200650</text>
<text transform="translate(13.2,315) rotate(-90)" text-anchor="middle" font-family="Liberation Sans, Arial, sans-serif" font-size="9.7" fill="#4c4c4c">NHI SWIR index</text>
<text transform="translate(23,317) rotate(-90)" text-anchor="middle" font-family="Liberation Sans, Arial, sans-serif" font-size="9.4" fill="#4c4c4c">from HIMAWARI 8/AHI</text>
<text transform="translate(537.2,328) rotate(-90)" text-anchor="middle" font-family="Liberation Sans, Arial, sans-serif" font-size="8.9" fill="#4c4c4c">Total SWIR Radiance (W*m−2*sr−1*µm-1)</text>
<text transform="translate(545.4,325.7) rotate(-90)" text-anchor="middle" font-family="Liberation Sans, Arial, sans-serif" font-size="8.3" fill="#4c4c4c">from Sentinel 2 /MSI</text>
<text x="272" y="454.8" text-anchor="middle" font-family="Liberation Sans, Arial, sans-serif" font-size="9" textLength="135" lengthAdjust="spacingAndGlyphs" fill="#5a5a5a">DATE (YYYYMMDDHHMM) UTC-time</text>
<rect x="504.6" y="423.9" width="9" height="3.6" fill="#f9c4cc" stroke="#f4404c" stroke-width="0.9"/>
<rect x="504.6" y="434.3" width="9" height="3.6" fill="#b4d4f6" stroke="#4a9fe8" stroke-width="0.9"/>
<line x1="504.2" x2="514" y1="446.9" y2="446.9" stroke="#333" stroke-width="0.9"/>
<text x="515.6" y="428.1" font-family="Liberation Sans, Arial, sans-serif" font-size="6.9" textLength="26.6" lengthAdjust="spacingAndGlyphs" fill="#555">2200 nm</text>
<text x="515.6" y="438.5" font-family="Liberation Sans, Arial, sans-serif" font-size="6.9" textLength="26.6" lengthAdjust="spacingAndGlyphs" fill="#555">1600 nm</text>
<text x="515.6" y="449.3" font-family="Liberation Sans, Arial, sans-serif" font-size="6.9" textLength="28.2" lengthAdjust="spacingAndGlyphs" fill="#555">NHI SWIR</text>
<line x1="0" x2="550" y1="464.5" y2="464.5" stroke="#fbfbfb" stroke-width="1"/>
<text x="283.4" y="236.4" text-anchor="middle" font-family="Liberation Serif, Times New Roman, serif" font-size="11.8" fill="#111">(<tspan font-weight="bold">a</tspan>)</text>
<text x="283.0" y="480.6" text-anchor="middle" font-family="Liberation Serif, Times New Roman, serif" font-size="11.8" fill="#111">(<tspan font-weight="bold">b</tspan>)</text>
</svg>
</body></html>
